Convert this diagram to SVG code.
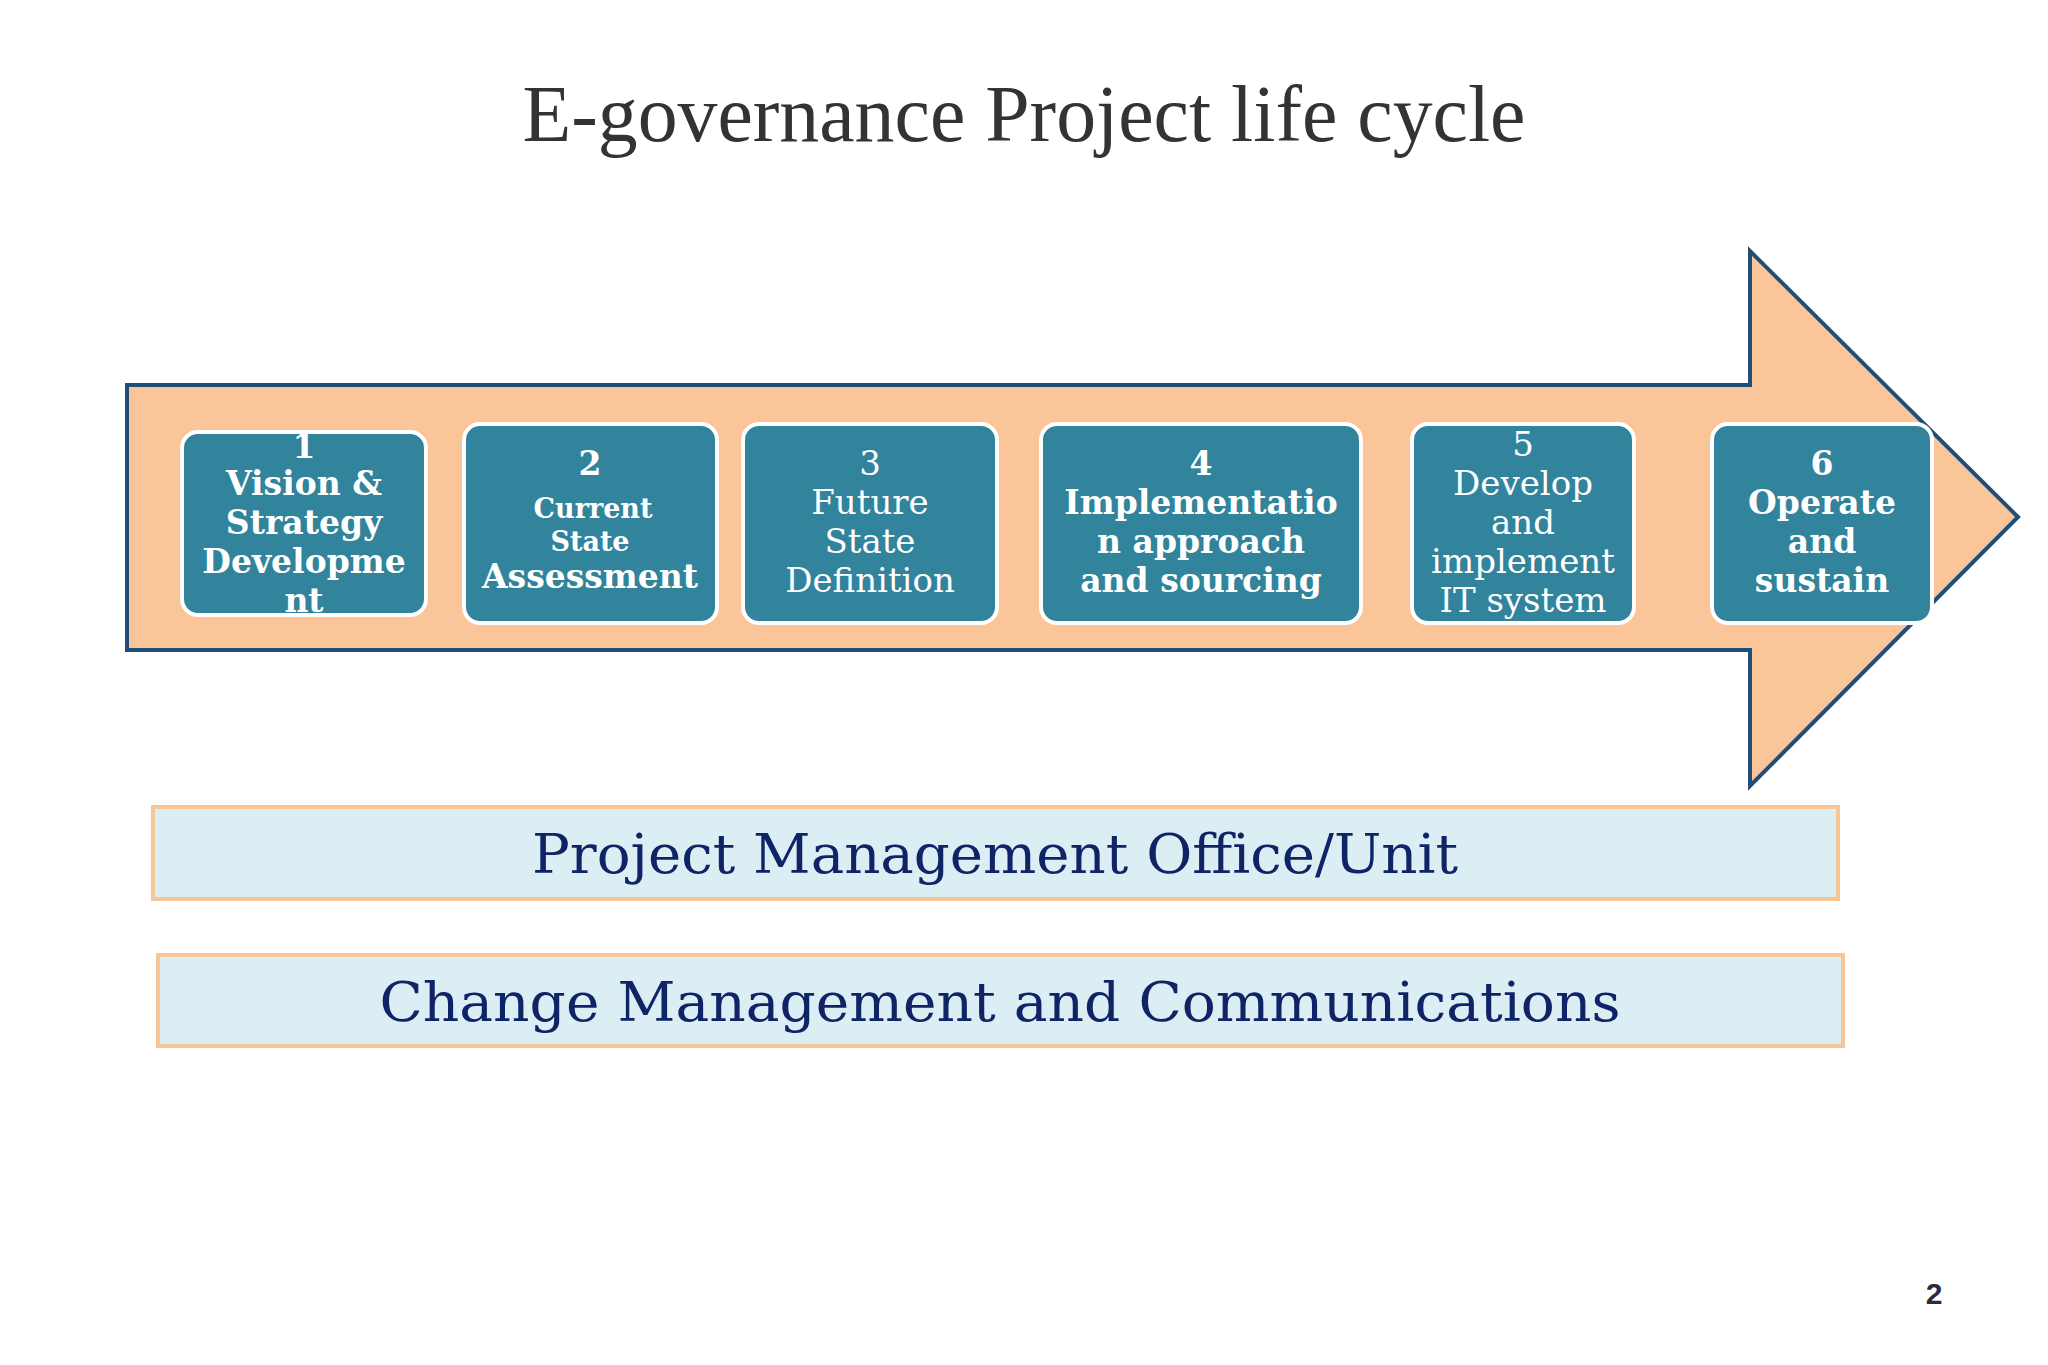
<svg xmlns="http://www.w3.org/2000/svg" width="2048" height="1365" viewBox="0 0 2048 1365">
<style>
.title{font-family:"Liberation Serif","Times New Roman",serif;font-size:80px;fill:#333333;text-anchor:middle}
.box{fill:#31849B;stroke:#FFFFFF;stroke-width:4}
.tb{font-family:"DejaVu Serif",serif;font-weight:bold;font-size:33px;fill:#FFFFFF;text-anchor:middle}
.tr{font-family:"DejaVu Serif",serif;font-size:34px;fill:#FFFFFF;text-anchor:middle}
.bar{fill:#DBEEF4;stroke:#F8C597;stroke-width:4}
.bt{font-family:"DejaVu Serif",serif;font-size:54px;fill:#0F2466;text-anchor:middle}
</style>
<rect width="2048" height="1365" fill="#FFFFFF"/>
<text class="title" x="1024" y="141" textLength="1003" lengthAdjust="spacingAndGlyphs">E-governance Project life cycle</text>
<g id="arrow">
<path d="M127,385 L1750,385 L1750,251 L2018,517 L1750,786 L1750,650 L127,650 Z" fill="#FAC598" stroke="#1F4E79" stroke-width="4" stroke-linejoin="miter"/>
</g>
<g id="step1">
<rect class="box" x="182" y="432" width="244" height="183" rx="16"/>
<text class="tb" x="304" y="458">1</text>
<text class="tb" x="304" y="495">Vision &amp;</text>
<text class="tb" x="304" y="534">Strategy</text>
<text class="tb" x="304" y="573">Developme</text>
<text class="tb" x="304" y="612">nt</text>
</g>
<g id="step2">
<rect class="box" x="464" y="424" width="253" height="199" rx="16"/>
<text class="tb" x="590" y="475">2</text>
<text class="tb" x="593" y="518" style="font-size:27px">Current</text>
<text class="tb" x="590" y="551" style="font-size:27px">State</text>
<text class="tb" x="590" y="588">Assessment</text>
</g>
<g id="step3">
<rect class="box" x="743" y="424" width="254" height="199" rx="16"/>
<text class="tr" x="870" y="475">3</text>
<text class="tr" x="870" y="514">Future</text>
<text class="tr" x="870" y="553">State</text>
<text class="tr" x="870" y="592">Definition</text>
</g>
<g id="step4">
<rect class="box" x="1041" y="424" width="320" height="199" rx="16"/>
<text class="tb" x="1201" y="475">4</text>
<text class="tb" x="1201" y="514">Implementatio</text>
<text class="tb" x="1201" y="553">n approach</text>
<text class="tb" x="1201" y="592">and sourcing</text>
</g>
<g id="step5">
<rect class="box" x="1412" y="424" width="222" height="199" rx="16"/>
<text class="tr" x="1523" y="456">5</text>
<text class="tr" x="1523" y="495">Develop</text>
<text class="tr" x="1523" y="534">and</text>
<text class="tr" x="1523" y="573">implement</text>
<text class="tr" x="1523" y="612">IT system</text>
</g>
<g id="step6">
<rect class="box" x="1712" y="424" width="220" height="199" rx="16"/>
<text class="tb" x="1822" y="475">6</text>
<text class="tb" x="1822" y="514">Operate</text>
<text class="tb" x="1822" y="553">and</text>
<text class="tb" x="1822" y="592">sustain</text>
</g>
<g id="pmo">
<rect class="bar" x="153" y="807" width="1685" height="92"/>
<text class="bt" x="995" y="873" textLength="926" lengthAdjust="spacingAndGlyphs">Project Management Office/Unit</text>
</g>
<g id="change">
<rect class="bar" x="158" y="955" width="1685" height="91"/>
<text class="bt" x="1000" y="1021" textLength="1241" lengthAdjust="spacingAndGlyphs">Change Management and Communications</text>
</g>
<g id="connectors"></g>
<text x="1934" y="1304" style="font-family:'Liberation Sans',Arial,sans-serif;font-weight:bold;font-size:30px;fill:#2B2747;text-anchor:middle">2</text>
</svg>
